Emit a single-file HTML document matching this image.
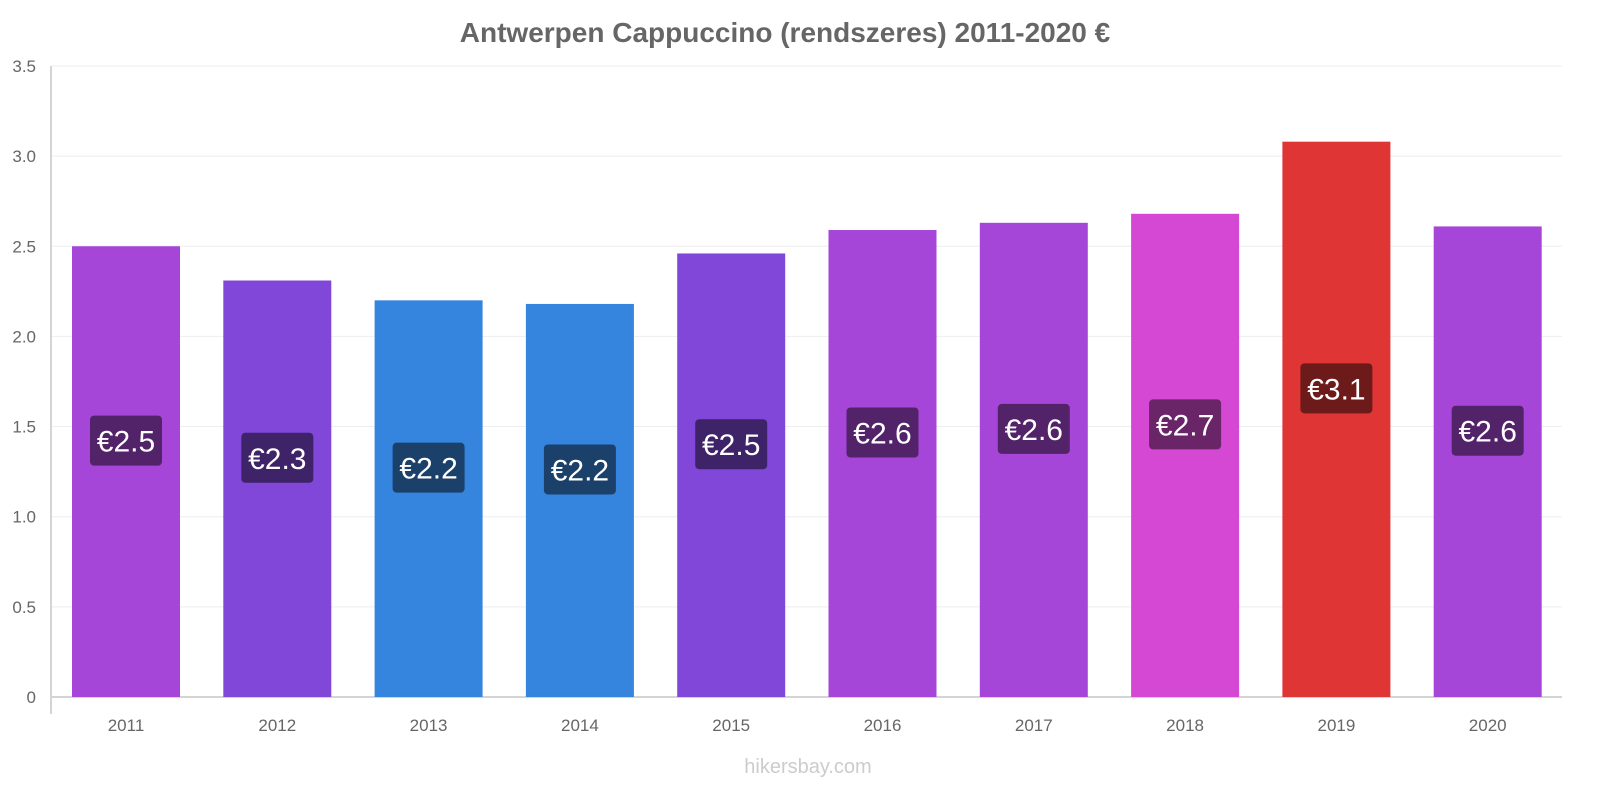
<!DOCTYPE html>
<html><head><meta charset="utf-8"><style>
body{margin:0;background:#fff;font-family:"Liberation Sans",sans-serif}
</style></head><body>
<svg id="c" width="1600" height="800" xmlns="http://www.w3.org/2000/svg">
<text x="785" y="42" text-anchor="middle" font-size="28" font-weight="bold" fill="#666">Antwerpen Cappuccino (rendszeres) 2011-2020 €</text>
<text x="808" y="773" text-anchor="middle" font-size="20" fill="#ccc">hikersbay.com</text>
<g id="grid"></g><g id="bars"></g>
</svg>
<script>
const categories=["2011","2012","2013","2014","2015","2016","2017","2018","2019","2020"];
const values=[2.5,2.31,2.2,2.18,2.46,2.59,2.63,2.68,3.08,2.61];
const labels=["€2.5","€2.3","€2.2","€2.2","€2.5","€2.6","€2.6","€2.7","€3.1","€2.6"];
const colors=["#a646d8","#8047d8","#3585df","#3585df","#8047d8","#a646d8","#a646d8","#d548d3","#e03535","#a646d8"];
const labelColors=["#532369","#3f2369","#1b416b","#1b416b","#3f2369","#532369","#532369","#6a2468","#6d1a1a","#532369"];
const yTicks=[0,0.5,1,1.5,2,2.5,3,3.5];
const NS="http://www.w3.org/2000/svg";
const y=v=>697-v*180.3;
const x=i=>72+i*151.3;
const bw=108;
function mk(t,a,p){const e=document.createElementNS(NS,t);for(const k in a)e.setAttribute(k,a[k]);p.appendChild(e);return e;}
const g=document.getElementById('grid'),b=document.getElementById('bars');
yTicks.forEach(t=>{
 const l=mk('line',{x1:52,x2:1562,y1:y(t),y2:y(t),stroke:t===0?'#aaa':'#eee','stroke-width':1},g);
 
 
 const tx=mk('text',{x:36,y:y(t)+6,'text-anchor':'end','font-size':17,fill:'#666'},g);
 tx.textContent=t===0?'0':t.toFixed(1);
 
 
});
const ax=mk('line',{x1:51,x2:51,y1:66,y2:714,stroke:'#aaa'},g);


categories.forEach((c,i)=>{
 const r=mk('rect',{x:x(i),y:y(values[i]),width:bw,height:697-y(values[i]),fill:colors[i]},b);
 
 
 const cy=(y(values[i])+697)/2-31;
 const lb=mk('rect',{x:x(i)+18,y:cy-25,width:72,height:50,rx:4,fill:labelColors[i]},b);
 
 
 const lt=mk('text',{x:x(i)+bw/2,y:cy+11,'text-anchor':'middle','font-size':30,fill:'#fff'},b);
 lt.textContent=labels[i];
 
 
 const xt=mk('text',{x:x(i)+bw/2,y:731,'text-anchor':'middle','font-size':17,fill:'#666'},b);
 xt.textContent=c;
 
 
});
</script>
</body></html>
